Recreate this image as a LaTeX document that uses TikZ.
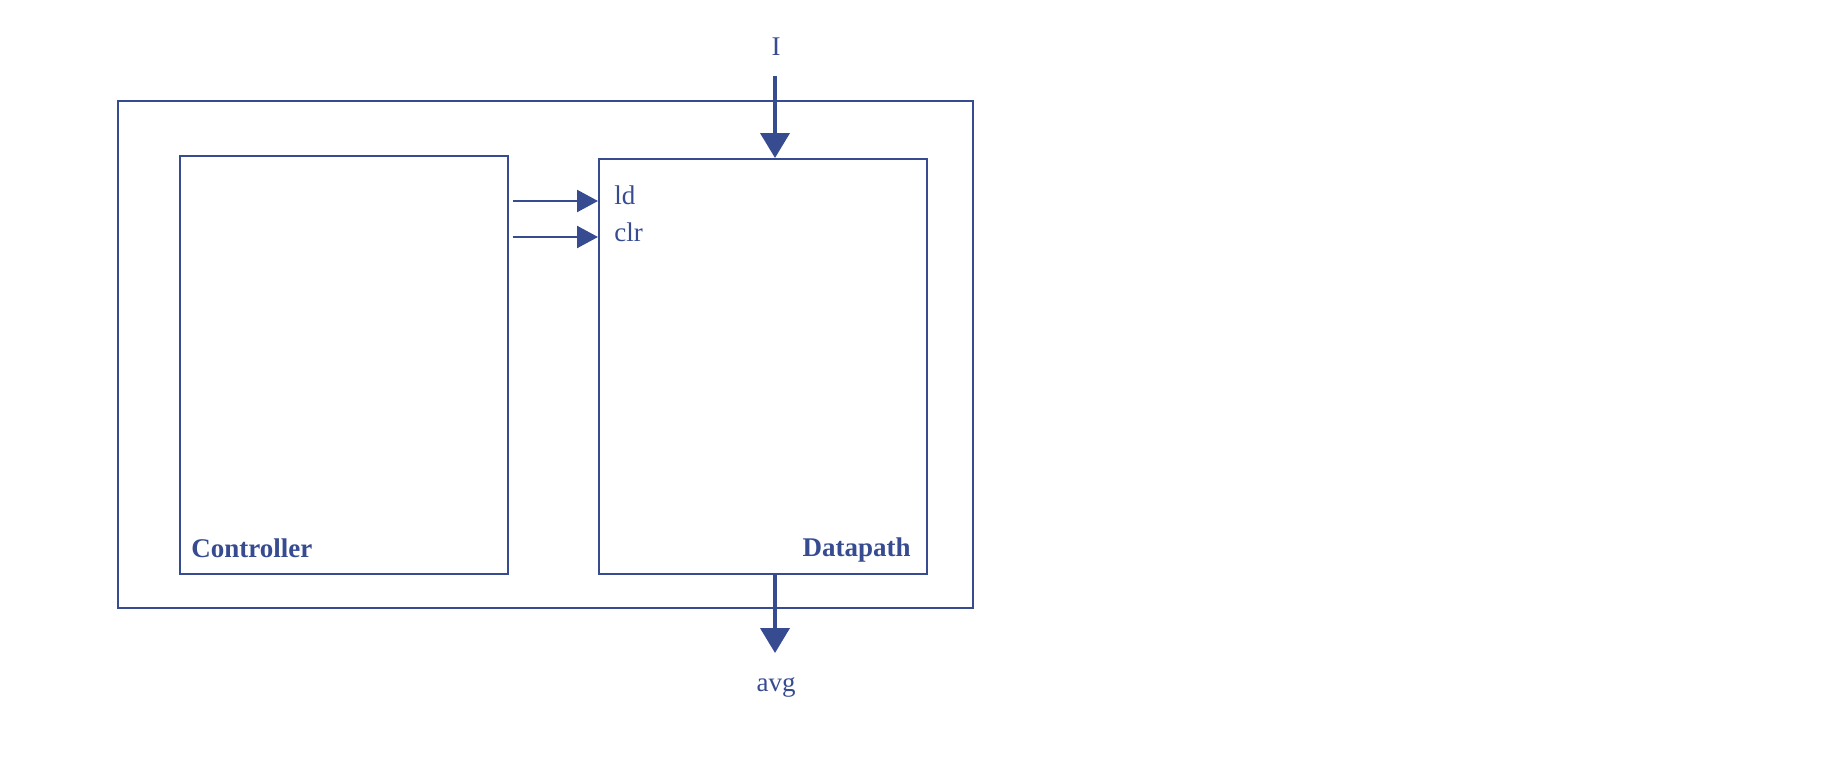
\documentclass[tikz,border=0pt]{standalone}
\usepackage{fontspec}
\setmainfont{Liberation Serif}
\usetikzlibrary{arrows.meta}
\definecolor{dblue}{RGB}{55,75,145}
\begin{document}
\begin{tikzpicture}[x=0.5pt,y=-0.5pt,
  box/.style={draw=dblue,line width=1pt,inner sep=0pt,anchor=north west},
  bigarrow/.style={draw=dblue,line width=2pt,-{Triangle[width=14.5pt,length=12.5pt]}},
  sigarrow/.style={draw=dblue,line width=1.2pt,-{Triangle[width=11pt,length=10.5pt]}},
  lbl/.style={text=dblue,inner sep=0pt,font=\fontsize{13.5}{16}\selectfont},
  blbl/.style={lbl,font=\fontsize{13.5}{16}\selectfont\bfseries}]
\useasboundingbox (0,0) rectangle (1824,771);
\node[box,minimum width=427.5pt,minimum height=253.5pt] (sys) at (117,100) {};
\node[box,minimum width=164pt,minimum height=209pt] (ctrl) at (179,155) {};
\node[box,minimum width=164pt,minimum height=207.5pt] (dp) at (598,158) {};
\node[blbl,anchor=base west] (ctrllbl) at (191,557) {Controller};
\node[blbl,anchor=base east] (dplbl) at (911,556) {Datapath};
\node[lbl] (ilbl) at (776,47) {I};
\node[lbl] (avglbl) at (776,687) {avg};
\node[lbl,anchor=base west] (ldlbl) at (614,204) {ld};
\node[lbl,anchor=base west] (clrlbl) at (614,241) {clr};
\coordinate (iin) at (775,76);
\coordinate (aout) at (775,653);
\coordinate (ldin) at (513,201);
\coordinate (clrin) at (513,237);
\draw[bigarrow] (iin) -- (iin |- dp.north);
\draw[bigarrow] (aout |- dp.south) -- (aout);
\draw[sigarrow] (ldin) -- (ldin -| dp.west);
\draw[sigarrow] (clrin) -- (clrin -| dp.west);
\end{tikzpicture}
\end{document}
